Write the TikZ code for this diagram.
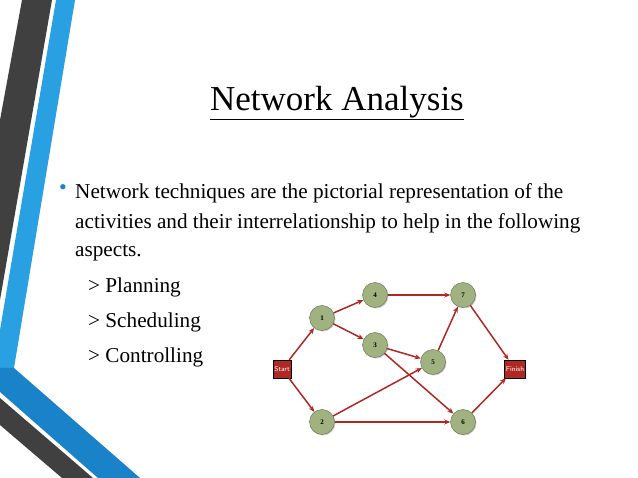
\documentclass[tikz,border=0pt]{standalone}
\usepackage{fontspec}
\setmainfont{Liberation Serif}
\usetikzlibrary{arrows.meta,shadows}
\definecolor{dk}{RGB}{64,64,64}
\definecolor{bl}{RGB}{40,160,225}
\definecolor{bl2}{RGB}{25,130,200}
\definecolor{rd}{RGB}{175,40,35}
\definecolor{gn}{RGB}{160,178,128}
\tikzset{
 ev/.style={circle,draw=gn!60!black,fill=gn,minimum size=25pt,inner sep=0pt,font=\fontsize{7}{8}\selectfont\bfseries,drop shadow={opacity=0.4,shadow xshift=1pt,shadow yshift=-1pt}},
 term/.style={draw=black,fill=rd,text=white,font=\sffamily\fontsize{7}{8}\selectfont,minimum height=18pt,inner sep=1.5pt},
 ar/.style={draw=rd,line width=1.5pt,-{Stealth[length=6pt,width=5pt]}},
 body/.style={anchor=west,font=\fontsize{21.2}{24}\selectfont,inner sep=0pt}
}
\begin{document}
\begin{tikzpicture}[x=1pt,y=-1pt]
\useasboundingbox (0,0) rectangle (638,478);
\fill[dk] (22,0)--(52,0)--(0,300)--(0,120)--cycle;
\fill[bl] (56,0)--(75,0)--(14,368)--(0,368)--(0,330)--cycle;
\fill[bl2] (0,368)--(14,368)--(140,478)--(98,478)--(0,392)--cycle;
\fill[dk] (0,398)--(93,478)--(62,478)--(0,425)--cycle;
\node[font=\fontsize{35}{38}\selectfont,inner sep=0pt] (t) at (337,103) {\underline{Network Analysis}};
\node[text=bl2,font=\fontsize{22}{24}\selectfont,inner sep=0pt] (b) at (63,190) {•};
\node[body] (l1) at (75,193) {Network techniques are the pictorial representation of the};
\node[body] (l2) at (75,223) {activities and their interrelationship to help in the following};
\node[body] (l3) at (75,253) {aspects.};
\node[body] (p1) at (88,287) {> Planning};
\node[body] (p2) at (88,322) {> Scheduling};
\node[body] (p3) at (88,357) {> Controlling};
\node[term] (S) at (282,369) {Start};
\node[term] (F) at (515,369) {Finish};
\node[ev] (n1) at (322,318) {1};
\node[ev] (n2) at (322,422) {2};
\node[ev] (n3) at (375,345) {3};
\node[ev] (n4) at (375,295) {4};
\node[ev] (n5) at (433,362) {5};
\node[ev] (n6) at (463,422) {6};
\node[ev] (n7) at (463,295) {7};
\draw[ar] (S) -- (n1); \draw[ar] (S) -- (n2);
\draw[ar] (n1) -- (n4); \draw[ar] (n1) -- (n3);
\draw[ar] (n4) -- (n7); \draw[ar] (n3) -- (n5);
\draw[ar] (n3) -- (n6); \draw[ar] (n2) -- (n5);
\draw[ar] (n2) -- (n6); \draw[ar] (n5) -- (n7);
\draw[ar] (n7) -- (F); \draw[ar] (n6) -- (F);
\end{tikzpicture}
\end{document}
